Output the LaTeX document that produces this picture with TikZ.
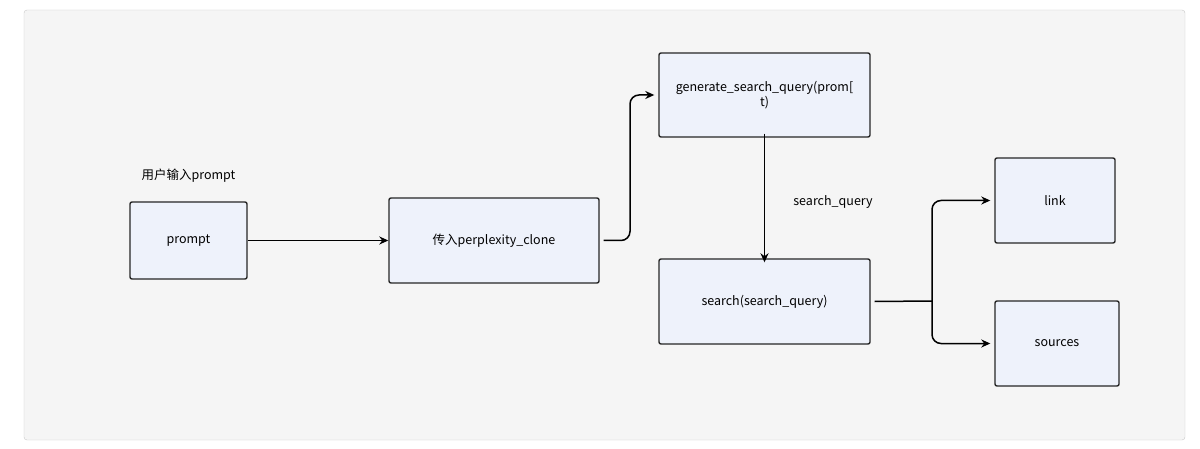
\documentclass[tikz,border=0pt]{standalone}
\usepackage{fontspec}
\setmainfont{Noto Sans CJK SC}
\usepackage{tikz}
\usetikzlibrary{arrows.meta,positioning}
\definecolor{boxfill}{RGB}{238,242,251}
\definecolor{panelfill}{RGB}{245,245,245}
\definecolor{panelline}{RGB}{200,200,200}

\begin{document}
\begin{tikzpicture}[x=1pt,y=-1pt,>={Stealth[length=9pt,width=8pt]},
  box/.style={draw=black!85,fill=boxfill,rounded corners=2pt,line width=1.4pt,
    font=\fontsize{12.5}{15}\selectfont,align=center,inner sep=2pt},
  flow/.style={->,line width=1.5pt,rounded corners=9pt}]
%%
\useasboundingbox (0,0) rectangle (1200,449);
\draw [panelline,fill=panelfill,rounded corners=3pt] (24,10) rectangle (1185,440);
%
\node (prompt) at (188.5,240.5) [box,minimum width=117pt,minimum height=77pt] {prompt};
  \node (clone) at (494,240.5) [box,minimum width=210pt,minimum height=85pt] {传入perplexity\_clone};
  \node (gen) at (764.5,95) [box,minimum width=211pt,minimum height=84pt] {generate\_search\_query(prom[\\t)};
  \node (search) at (764.5,301.5) [box,minimum width=211pt,minimum height=85pt] {search(search\_query)};
  \node (link) at (1055,200.5) [box,minimum width=120pt,minimum height=85pt] {link};
  \node (sources) at (1057,343.5) [box,minimum width=124pt,minimum height=85pt] {sources};
  \node (input) at (188.5,176) [font=\fontsize{12.5}{15}\selectfont] {用户输入prompt};
  \node (query) at (833,202) [font=\fontsize{12.5}{15}\selectfont] {search\_query};
  \coordinate (fork) at (932,301);
  \draw [flow] (prompt) -- (clone);
  \draw [flow] ([xshift=4pt]clone.east) -| (630,168) |- ([xshift=-4pt]gen.west);
  \draw [flow] ([yshift=4pt]gen.south) -- ([yshift=-4pt]search.north);
  \draw [line width=1.5pt] ([xshift=4pt]search.east) -- (fork);
  \draw [flow] (fork) |- ([xshift=-4pt]link.west);
  \draw [flow] (fork) |- ([xshift=-4pt]sources.west);
%
\end{tikzpicture}
\end{document}
